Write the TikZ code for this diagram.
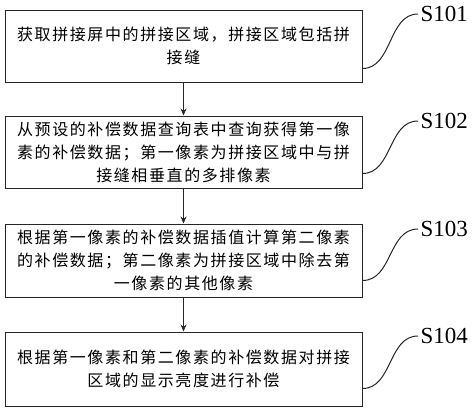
\documentclass[tikz,border=0pt]{standalone}
\usepackage{fontspec}
\setmainfont{Liberation Serif}
\newfontfamily\cjk[LetterSpace=10]{Noto Sans CJK SC}
\usetikzlibrary{arrows.meta}

\begin{document}
\begin{tikzpicture}[x=1pt,y=-1pt,line width=1pt,draw=black!85,
  box/.style={draw, minimum width=357pt, minimum height=72pt, align=center, font=\cjk\fontsize{16}{23}\selectfont},
  marke/.style={anchor=west, inner sep=2pt, font=\fontsize{23}{23}\selectfont},
  >={Stealth[length=7pt,width=6pt]}]
\useasboundingbox (0,0) rectangle (474,408);
\node[box] (b1) at (183.5,46) {获取拼接屏中的拼接区域，拼接区域包括拼\\接缝};
\node[box] (b2) at (183.5,152) {从预设的补偿数据查询表中查询获得第一像\\素的补偿数据；第一像素为拼接区域中与拼\\接缝相垂直的多排像素};
\node[box,minimum height=73pt] (b3) at (183.5,260.5) {根据第一像素的补偿数据插值计算第二像素\\的补偿数据；第二像素为拼接区域中除去第\\一像素的其他像素};
\node[box,minimum height=74pt] (b4) at (183.5,369) {根据第一像素和第二像素的补偿数据对拼接\\区域的显示亮度进行补偿};
\node[marke] (s1) at (418,14) {S101};
\node[marke] (s2) at (418,121) {S102};
\node[marke] (s3) at (418,229) {S103};
\node[marke] (s4) at (418,336) {S104};
\draw[->] (b1) -- (b2);
\draw[->] (b2) -- (b3);
\draw[->] (b3) -- (b4);
\draw ([yshift=14pt]b1.south east) .. controls +(30,0) and +(-30,0) .. (s1.west);
\draw ([yshift=15pt]b2.south east) .. controls +(30,0) and +(-30,0) .. (s2.west);
\draw ([yshift=17pt]b3.south east) .. controls +(30,0) and +(-30,0) .. (s3.west);
\draw ([yshift=18pt]b4.south east) .. controls +(30,0) and +(-30,0) .. (s4.west);
\end{tikzpicture}
\end{document}
